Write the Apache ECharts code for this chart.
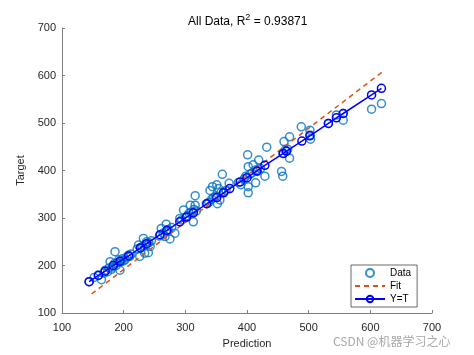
<!DOCTYPE html>
<html>
<head>
<meta charset="utf-8">
<script src="https://cdn.jsdelivr.net/npm/echarts@6/dist/echarts.min.js"></script>
<style>html,body{margin:0;padding:0;background:#fff;}#c{width:474px;height:355px;}</style>
</head>
<body>
<div id="c"></div>
<script>
// Data (Prediction, Target) pairs
const dataX = [144,152,159,164,168,170,174,176,178,180,183,185,186,188,190,192,194,196,198,200,202,205,208,210,212,
  222,224,226,228,230,232,234,235,237,238,240,241,243,245,
  258,261,264,267,269,270,272,275,278,283,
  291,294,297,300,303,306,308,310,313,314,316,316,318,
  334,338,340,343,344,346,349,351,352,354,356,358,360,362,366,371,
  386,390,395,398,401,402,402,402,405,408,410,414,414,417,419,422,429,432,
  456,458,458,460,462,464,466,469,469,
  488,502,502,503,532,545,556,556,602,618];
const dataY = [166,175,180,170,184,190,187,195,208,192,197,204,229,200,206,212,190,208,214,210,212,218,222,219,224,
  235,243,219,238,240,257,226,244,250,246,227,248,240,252,
  262,278,268,261,287,272,276,256,280,268,
  299,296,317,300,305,310,327,312,292,318,327,347,315,
  330,333,358,340,366,343,346,370,330,362,338,354,392,355,358,373,
  375,370,382,388,433,408,366,353,392,395,412,401,374,398,422,404,388,449,
  398,388,436,461,443,440,445,471,426,
  492,485,475,466,499,517,520,506,529,541];
// Y=T line points
const ytX = [144,159,170,183,194,208,227,237,259,270,291,302,313,335,351,362,372,389,400,416,429,459,464,489,502,532,545,556,602,618];
const ytY = [166,179,188,200,209,220,237,246,265,274,292,302,311,330,343,353,362,376,385,399,411,436,441,462,473,499,511,520,559,573];
// Fit line end points
const fitX = [148,620];
const fitY = [140,608];
const ticks = [100,200,300,400,500,600,700];

const zip = (a,b)=>a.map((v,i)=>[v,b[i]]);
const chart = echarts.init(document.getElementById('c'));
const font = 'Liberation Sans, Arial, sans-serif';
const axisCommon = {
  type:'value', min:ticks[0], max:ticks[ticks.length-1], interval:100,
  axisLine:{show:true, lineStyle:{color:'#808080', width:1}},
  axisTick:{show:true, inside:true, length:3, lineStyle:{color:'#808080'}},
  splitLine:{show:false},
  axisLabel:{color:'#262626', fontSize:11, fontFamily:font},
  nameTextStyle:{color:'#262626', fontSize:11, fontFamily:font}
};
chart.setOption({
  animation:false,
  backgroundColor:'#fff',
  title:{
    text:'All Data, R{sup|2} = 0.93871',
    left:183, top:8,
    textStyle:{fontSize:12, fontWeight:'normal', color:'#000', fontFamily:font,
      rich:{sup:{fontSize:9, verticalAlign:'top', padding:[0,0,8,0], color:'#000', fontFamily:font}}}
  },
  grid:{left:62, right:42, top:28, bottom:42},
  xAxis:Object.assign({}, axisCommon, {name:'Prediction', nameLocation:'middle', nameGap:25,
    axisLabel:Object.assign({}, axisCommon.axisLabel, {margin:9})}),
  yAxis:Object.assign({}, axisCommon, {name:'Target', nameLocation:'middle', nameGap:32,
    axisLabel:Object.assign({}, axisCommon.axisLabel, {margin:6})}),
  legend:{
    data:['Data',{name:'Fit', itemStyle:{color:'rgba(0,0,0,0)', borderWidth:0, opacity:0}},'Y=T'],
    orient:'vertical', left:351, top:265,
    padding:[3,6,3,3], itemGap:3, itemWidth:30, itemHeight:8,
    borderColor:'#444', borderWidth:0.8, backgroundColor:'#fff',
    textStyle:{fontSize:10, color:'#000', fontFamily:font}
  },
  series:[
    {name:'Data', type:'scatter', data:zip(dataX,dataY), symbol:'circle', symbolSize:8,
     itemStyle:{color:'rgba(0,0,0,0)', borderColor:'#0072BD', borderWidth:1.5}, z:2},
    {name:'Fit', type:'line', data:zip(fitX,fitY), symbol:'none', 
     lineStyle:{color:'#D95319', width:1.5, type:[5,4]}, itemStyle:{color:'#D95319'}, z:3},
    {name:'Y=T', type:'line', data:zip(ytX,ytY), symbol:'circle', symbolSize:8, showAllSymbol:true,
     lineStyle:{color:'#0000FF', width:1.5},
     itemStyle:{color:'rgba(0,0,0,0)', borderColor:'#0000FF', borderWidth:1.5}, z:4}
  ],
  graphic:[{type:'text', left:333, top:335,
    style:{text:'CSDN @机器学习之心', fill:'#a8a8a8', fontSize:12, fontFamily:'Noto Sans CJK SC, Liberation Sans, sans-serif'}}]
});
</script>
</body>
</html>
